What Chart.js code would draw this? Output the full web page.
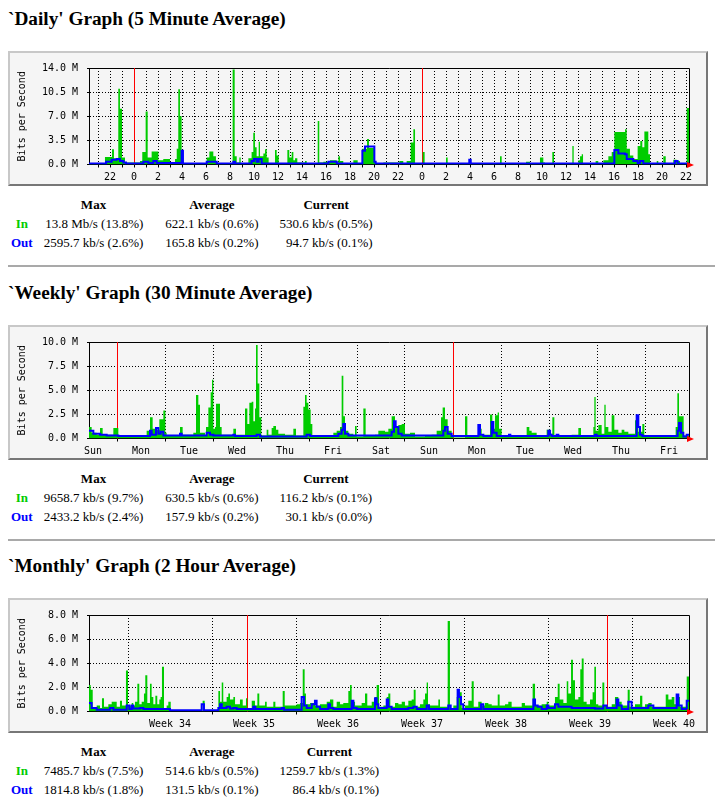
<!DOCTYPE html>
<html>
<head>
<meta charset="utf-8">
<title>MRTG traffic</title>
<script src="https://cdn.jsdelivr.net/npm/chart.js@4.4.1/dist/chart.umd.min.js"></script>
<style>
  html, body { margin: 0; padding: 0; background: #fff; }
  body { position: relative; width: 715px; height: 805px; overflow: hidden;
         font-family: "Liberation Serif", "Times New Roman", serif; color: #000; }
  h2 { position: absolute; left: 8px; margin: 0; font-size: 19.25px; line-height: 24px;
       font-weight: bold; white-space: nowrap; }
  .graph { position: absolute; left: 8px; width: 696px; height: 131px; background: #f5f5f5;
           border-style: solid; border-width: 2px; border-color: #c8c8c8 #777 #777 #c8c8c8; }
  .graph canvas { display: block; }
  table.stats { position: absolute; left: 8px; border-collapse: collapse; font-size: 13px; }
  table.stats tr { height: 19px; line-height: 19px; }
  table.stats th, table.stats td { padding: 0; white-space: nowrap; }
  table.stats th { text-align: center; font-weight: bold; }
  table.stats .lbl { padding: 0 3px; }
  table.stats .c1 { padding-left: 8px; }
  table.stats .c2 { padding-left: 22px; }
  table.stats .c3 { padding-left: 21px; }
  table.stats td { text-align: right; }
  .in { color: #00cc00; }
  .out { color: #0000ff; }
  .rule { position: absolute; left: 8px; width: 707px; height: 2px; background: #a9a9a9; }
</style>
</head>
<body>

<h2 style="top:6.5px">`Daily' Graph (5 Minute Average)</h2>
<div class="graph" style="top:51px"><canvas id="daily" width="696" height="131"></canvas></div>
<table class="stats" style="top:195px">
  <tr><th class="lbl"></th><th class="c1">Max</th><th class="c2">Average</th><th class="c3">Current</th></tr>
  <tr><th class="lbl in">In</th><td class="c1">13.8 Mb/s (13.8%)</td><td class="c2">622.1 kb/s (0.6%)</td><td class="c3">530.6 kb/s (0.5%)</td></tr>
  <tr><th class="lbl out">Out</th><td class="c1">2595.7 kb/s (2.6%)</td><td class="c2">165.8 kb/s (0.2%)</td><td class="c3">94.7 kb/s (0.1%)</td></tr>
</table>
<div class="rule" style="top:265px"></div>

<h2 style="top:280.5px">`Weekly' Graph (30 Minute Average)</h2>
<div class="graph" style="top:325px"><canvas id="weekly" width="696" height="131"></canvas></div>
<table class="stats" style="top:469px">
  <tr><th class="lbl"></th><th class="c1">Max</th><th class="c2">Average</th><th class="c3">Current</th></tr>
  <tr><th class="lbl in">In</th><td class="c1">9658.7 kb/s (9.7%)</td><td class="c2">630.5 kb/s (0.6%)</td><td class="c3">116.2 kb/s (0.1%)</td></tr>
  <tr><th class="lbl out">Out</th><td class="c1">2433.2 kb/s (2.4%)</td><td class="c2">157.9 kb/s (0.2%)</td><td class="c3">30.1 kb/s (0.0%)</td></tr>
</table>
<div class="rule" style="top:539px"></div>

<h2 style="top:553.5px">`Monthly' Graph (2 Hour Average)</h2>
<div class="graph" style="top:598px"><canvas id="monthly" width="696" height="131"></canvas></div>
<table class="stats" style="top:742px">
  <tr><th class="lbl"></th><th class="c1">Max</th><th class="c2">Average</th><th class="c3">Current</th></tr>
  <tr><th class="lbl in">In</th><td class="c1">7485.7 kb/s (7.5%)</td><td class="c2">514.6 kb/s (0.5%)</td><td class="c3">1259.7 kb/s (1.3%)</td></tr>
  <tr><th class="lbl out">Out</th><td class="c1">1814.8 kb/s (1.8%)</td><td class="c2">131.5 kb/s (0.1%)</td><td class="c3">86.4 kb/s (0.1%)</td></tr>
</table>

<script>
// ============================================================
// MRTG style traffic graphs (Chart.js, stepped area + line)
// x = time, y = Mbit/s. Each point holds until the next one.
// ============================================================

// ── Daily: hours from first midnight, 5 min samples ──
const dailyIn = [
  [-3.75,0.2],[-2.42,1.1],[-1.83,2.2],[-1.67,0.9],[-1.31,11.0],[-1.17,8.1],[-1.0,1.0],[-0.75,0.3],
  [0.5,0.5],[0.69,1.8],[0.97,7.7],[1.14,1.0],[1.47,1.9],[2.03,0.6],[2.44,0.8],[3.0,0.3],
  [3.42,0.8],[3.56,2.3],[3.69,10.9],[3.83,7.0],[3.97,1.0],[4.11,0.15],[6.06,1.0],[6.28,1.9],
  [6.61,1.2],[6.83,0.3],[7.03,0.1],[8.22,13.8],[8.39,1.2],[8.56,0.3],[8.78,1.0],[8.89,0.2],
  [9.53,0.9],[9.8,1.8],[9.94,4.6],[10.08,2.5],[10.22,1.2],[10.39,3.3],[10.5,1.2],[10.78,1.6],
  [10.92,2.2],[11.06,1.0],[11.22,0.2],[11.75,2.1],[11.89,1.3],[12.06,0.2],[12.78,2.1],[12.94,1.0],
  [13.14,1.8],[13.28,0.6],[13.42,0.9],[13.61,0.3],[14.25,0.5],[14.39,0.15],[15.31,6.3],[15.44,0.3],
  [15.78,0.4],[16.33,0.6],[16.89,0.3],[17.03,1.2],[17.17,0.5],[17.44,0.15],[18.28,0.6],[18.64,0.15],
  [19.03,2.3],[19.42,3.7],[19.58,2.4],[20.03,0.5],[20.14,0.1],[20.78,0.3],[22.03,0.15],[22.11,0.5],
  [22.44,0.1],[22.72,0.5],[23.06,3.2],[23.28,5.1],[23.42,0.1],[24.06,1.8],[24.22,0.1],[26.0,1.0],
  [26.14,0.1],[30.5,1.2],[30.64,0.1],[32.67,0.4],[33.0,0.1],[33.83,1.0],[34.11,0.3],[34.25,0.1],
  [34.86,1.8],[35.0,0.1],[36.53,2.7],[36.64,0.1],[37.03,0.6],[37.17,1.2],[37.31,1.5],[37.42,0.1],
  [38.47,0.5],[38.69,0.15],[39.11,0.6],[39.53,1.2],[39.81,1.8],[40.03,4.7],[40.92,5.1],[41.06,2.3],
  [41.33,1.3],[41.61,0.8],[41.97,2.7],[42.19,3.4],[42.36,2.5],[42.53,4.8],[42.86,1.5],[43.0,0.2],
  [43.56,0.5],[43.69,0.1],[44.11,1.2],[44.31,0.1],[44.94,0.7],[45.22,0.5],[45.5,0.1],[46.06,8.2],
  [46.25,8.2]
];
const dailyOut = [
  [-3.75,0.15],[-2.33,0.4],[-1.86,0.7],[-1.44,0.8],[-1.17,0.5],[-0.89,0.3],[-0.67,0.15],[0.78,0.4],
  [1.19,0.2],[1.61,0.5],[1.89,0.2],[3.97,2.0],[4.08,0.15],[6.06,0.4],[6.89,0.15],[8.28,0.4],
  [8.42,0.15],[9.8,0.5],[10.0,0.8],[10.22,0.4],[10.39,0.8],[10.64,0.15],[16.2,0.4],[16.9,0.15],
  [19.03,2.0],[19.25,2.6],[20.03,0.4],[20.14,0.15],[27.94,0.7],[28.06,0.15],[40.03,2.1],[40.36,1.6],
  [40.92,1.5],[41.06,0.8],[41.61,0.5],[41.97,0.2],[42.17,0.5],[42.44,0.15],[45.08,0.5],[45.3,0.15],
  [46.25,0.15]
];
const dailyLabelHours = [-2,0,2,4,6,8,10,12,14,16,18,20,22,24,26,28,30,32,34,36,38,40,42,44,46];
const dailyLabels = ['22','0','2','4','6','8','10','12','14','16','18','20','22',
                     '0','2','4','6','8','10','12','14','16','18','20','22'];
const dailyYTicks = [0, 3.5, 7, 10.5, 14];
const dailyMidnights = [0, 24];

// ── Weekly: hours from Monday 00:00, 30 min samples ──
const weeklyIn = [
  [-14,1.2],[-12.67,0.6],[-10.17,0.4],[-8.5,1.1],[-7.17,0.4],[-1.83,1.1],[0.67,0.3],[14.83,0.8],
  [16.5,2.2],[17.83,1.0],[19.17,0.4],[19.83,0.9],[21.17,2.0],[23.17,2.9],[24.17,0.6],[24.83,0.3],
  [31.5,1.2],[32.83,0.4],[38.17,0.6],[39.5,4.5],[40.67,3.5],[41.5,0.6],[44.0,0.3],[44.5,1.2],
  [45.67,3.2],[46.83,4.8],[47.5,6.1],[48.17,1.0],[49.0,1.2],[49.5,3.6],[51.5,1.2],[52.33,0.4],
  [58.17,1.0],[59.5,0.4],[64.0,3.1],[65.17,1.5],[66.17,3.7],[67.33,3.8],[68.17,1.8],[69.0,3.1],
  [69.5,9.7],[70.33,5.7],[71.17,2.2],[72.17,0.3],[74.83,0.9],[75.67,0.4],[77.33,1.1],[78.17,1.3],
  [79.5,0.9],[80.67,0.5],[84.0,0.4],[88.17,1.0],[89.5,0.3],[93.17,3.3],[94.0,4.5],[94.83,3.7],
  [95.67,3.0],[96.83,1.5],[97.67,0.3],[101.5,0.2],[108.17,0.6],[109.83,0.8],[111.5,1.2],[112.33,6.5],
  [113.17,2.3],[114.0,0.8],[115.67,0.5],[118.17,0.3],[119.0,1.3],[119.83,0.2],[123.17,3.1],[124.33,0.3],
  [129.0,0.4],[130.67,0.8],[134.0,0.7],[135.67,1.0],[137.33,2.3],[139.0,1.2],[140.67,1.4],[142.33,1.5],
  [144.0,0.5],[146.5,0.6],[149.0,0.2],[154.0,0.3],[157.33,0.4],[159.83,0.8],[162.0,2.2],[162.83,3.2],
  [164.0,2.0],[165.33,0.8],[167.33,0.3],[168.17,0.1],[174.0,2.3],[175.17,0.3],[180.67,1.0],[182.33,0.4],
  [186.5,2.5],[187.67,1.0],[189.0,2.4],[190.33,2.7],[191.0,1.0],[192.33,0.2],[204.83,1.2],[206.17,0.8],
  [207.33,0.6],[209.83,0.2],[214.83,0.9],[216.5,0.5],[217.67,2.2],[218.67,0.3],[219.83,0.2],[227.33,0.4],
  [230.67,1.1],[232.0,0.3],[238.17,1.2],[238.67,4.3],[239.33,0.8],[240.67,1.4],[242.33,0.5],[243.67,3.5],
  [244.33,1.2],[245.67,0.7],[247.33,2.4],[248.67,0.9],[250.67,0.6],[252.33,0.9],[253.67,0.7],[255.67,0.5],
  [259.0,1.9],[260.67,0.7],[262.67,1.5],[263.67,0.3],[265.67,0.2],[275.67,0.3],[279.33,1.2],[280.17,4.7],
  [281.0,2.3],[283.33,0.3],[286,0.3]
];
const weeklyOut = [
  [-14,0.8],[-11.83,0.5],[-8.5,0.4],[-5.17,0.3],[0.67,0.25],[16.5,0.8],[17.33,0.4],[19.5,1.1],
  [20.67,0.5],[21.83,0.7],[23.17,0.3],[31.5,0.5],[32.33,0.3],[44.83,0.6],[46.5,0.4],[48.17,0.3],
  [58.17,0.4],[59.0,0.25],[69.83,0.4],[71.5,0.2],[94.83,0.4],[96.5,0.25],[110.67,0.5],[112.33,0.9],
  [113.17,1.5],[114.0,0.5],[115.67,0.3],[137.33,0.7],[138.5,1.8],[139.33,1.2],[140.67,0.5],[142.33,0.3],
  [163.17,0.8],[164.0,1.2],[165.33,0.5],[167.33,0.25],[180.67,1.4],[181.5,0.4],[183.17,0.25],[187.33,1.7],
  [188.17,0.6],[189.83,0.25],[196.0,0.4],[196.67,0.25],[215.67,0.8],[216.5,0.4],[217.33,0.25],[219.83,0.4],
  [220.67,0.25],[239.0,0.4],[239.83,0.25],[259.83,2.4],[260.67,1.2],[261.5,0.4],[262.67,0.25],[280.33,0.8],
  [281.0,1.6],[282.0,0.6],[283.17,0.2],[284.83,0.4],[286,0.4]
];
const weeklyLabelHours = [-12,12,36,60,84,108,132,156,180,204,228,252,276];
const weeklyLabels = ['Sun','Mon','Tue','Wed','Thu','Fri','Sat','Sun','Mon','Tue','Wed','Thu','Fri'];
const weeklyYTicks = [0, 2.5, 5, 7.5, 10];
const weeklyWeekStarts = [0, 168];

// ── Monthly: days from start of week 34, 2 hour samples ──
const monthlyIn = [
  [-3.25,2.2],[-3.11,1.8],[-2.94,0.3],[-2.61,0.5],[-2.33,0.3],[-2.17,1.1],[-2.0,0.4],[-1.64,0.6],
  [-1.36,0.8],[-0.94,0.4],[-0.67,0.9],[-0.5,0.5],[-0.17,3.4],[0.0,0.5],[0.31,0.7],[0.44,0.5],
  [0.58,0.8],[0.78,2.3],[0.94,0.6],[1.14,0.8],[1.33,1.5],[1.44,3.0],[1.61,0.7],[1.83,2.3],
  [1.97,1.2],[2.11,0.6],[2.28,1.3],[2.44,0.6],[2.61,1.0],[2.72,1.2],[2.83,3.7],[3.0,0.3],
  [3.22,0.5],[3.36,0.8],[3.56,0.03],[6.22,0.9],[6.39,0.03],[7.53,1.7],[7.67,0.8],[7.81,2.4],
  [7.94,0.8],[8.22,1.2],[8.36,1.5],[8.5,1.0],[8.78,1.2],[8.92,0.6],[9.33,1.0],[9.56,0.5],
  [9.83,1.1],[9.94,0.3],[10.31,0.9],[10.58,0.5],[10.78,1.5],[10.94,0.5],[11.42,0.8],[11.56,0.4],
  [12.11,0.8],[12.28,0.4],[12.89,1.7],[13.06,0.5],[14.06,0.6],[14.33,0.7],[14.56,3.5],[14.72,1.5],
  [14.83,0.6],[15.17,0.7],[15.58,0.5],[16.0,0.6],[16.56,0.8],[16.83,1.0],[17.11,0.4],[17.39,0.8],
  [17.67,0.6],[17.94,0.7],[18.36,1.7],[18.5,2.2],[18.64,0.8],[18.92,0.5],[19.47,0.7],[19.75,1.5],
  [19.94,0.5],[20.31,0.8],[20.58,1.2],[20.72,2.2],[20.92,0.4],[21.28,0.5],[21.56,1.2],[21.69,1.5],
  [21.86,0.4],[22.25,0.7],[22.53,0.6],[22.81,0.8],[23.08,0.5],[23.36,0.9],[23.64,1.0],[23.81,1.8],
  [23.97,0.4],[24.33,0.6],[24.61,1.0],[24.75,1.5],[24.89,2.4],[25.0,0.6],[25.17,0.5],[25.86,1.0],
  [26.0,0.4],[26.64,7.5],[26.83,0.3],[27.11,0.5],[27.39,1.2],[27.58,1.6],[27.81,0.3],[28.08,0.5],
  [28.36,0.9],[28.64,2.5],[28.81,0.4],[29.19,0.8],[29.47,0.5],[29.75,0.7],[30.03,0.6],[30.31,0.5],
  [30.81,1.4],[30.97,0.5],[31.42,0.6],[31.69,0.8],[31.97,0.4],[32.81,0.7],[33.08,0.5],[33.72,2.3],
  [33.92,0.5],[34.47,0.6],[34.89,0.8],[35.03,0.5],[35.58,1.2],[35.81,2.3],[35.97,1.0],[36.28,0.7],
  [36.56,2.5],[36.69,1.5],[36.92,4.3],[37.08,2.6],[37.25,1.0],[37.53,1.2],[37.69,3.5],[37.81,4.4],
  [37.97,0.8],[38.22,0.6],[38.5,1.0],[38.72,1.6],[38.86,3.7],[39.0,0.6],[39.19,0.5],[39.53,2.4],
  [39.69,0.5],[39.89,0.4],[40.31,0.6],[40.58,1.2],[40.86,0.8],[41.14,0.5],[41.64,1.8],[41.81,0.4],
  [42.25,0.6],[42.67,1.3],[42.86,0.4],[43.08,0.6],[43.36,0.7],[43.64,0.4],[44.81,1.4],[45.03,1.0],
  [45.31,1.2],[45.53,0.6],[45.81,1.2],[46.0,0.4],[46.56,2.9],[46.75,2.9]
];
const monthlyOut = [
  [-3.25,0.7],[-3.03,0.3],[-2.61,0.15],[-1.5,0.3],[-1.22,0.15],[-0.11,0.5],[0.11,0.2],[0.31,0.5],
  [0.44,0.25],[1.0,0.3],[1.28,0.2],[3.5,0.1],[6.14,0.6],[6.33,0.1],[7.53,0.3],[7.67,0.6],
  [7.81,0.3],[8.22,0.4],[8.5,0.25],[8.78,0.3],[9.06,0.2],[10.44,0.4],[10.61,0.2],[12.81,0.3],
  [13.0,0.15],[14.47,1.2],[14.67,0.5],[14.89,0.3],[15.31,0.6],[15.58,0.9],[15.72,0.4],[16.0,0.2],
  [16.69,0.6],[16.83,0.3],[17.11,0.2],[18.64,0.9],[18.78,0.3],[19.06,0.2],[20.58,1.1],[20.72,0.6],
  [20.86,0.3],[21.56,1.0],[21.69,0.4],[21.97,0.2],[23.36,0.3],[23.78,0.4],[24.06,0.2],[24.89,0.5],
  [25.08,0.2],[26.69,0.5],[26.89,0.2],[27.47,1.8],[27.58,1.2],[27.75,0.6],[27.94,0.2],[29.42,0.6],
  [29.61,0.2],[33.78,1.0],[33.92,0.5],[34.14,0.4],[34.47,0.2],[34.89,0.5],[35.03,0.3],[35.58,0.6],
  [35.86,0.4],[36.97,0.3],[38.92,0.25],[39.61,0.5],[39.89,0.3],[40.72,1.0],[40.86,0.5],[41.14,0.2],
  [41.69,0.8],[41.97,0.3],[43.36,0.5],[43.78,0.3],[45.72,1.4],[45.86,0.5],[46.14,0.2],[46.56,0.9],
  [46.75,0.9]
];
const monthlyLabelDays = [3.5, 10.5, 17.5, 24.5, 31.5, 38.5, 45.5];
const monthlyLabels = ['Week 34','Week 35','Week 36','Week 37','Week 38','Week 39','Week 40'];
const monthlyYTicks = [0, 2, 4, 6, 8];
const monthlyMonthStarts = [9.92, 39.92];

// ── common style ──
const GREEN = '#00cc00';
const BLUE = '#0000ff';
const RED = '#ff0000';
const MONO = { family: 'DejaVu Sans Mono', size: 10 };

function steps(from, to, step) {
  const out = [];
  for (let v = from; v <= to + 1e-9; v += step) out.push(v);
  return out;
}

// red marker lines, solid frame on top/right, red arrow at the x axis end
const mrtgDecor = {
  id: 'mrtgDecor',
  beforeDatasetsDraw(chart, args, opts) {
    const { ctx, chartArea: a, scales: { x } } = chart;
    ctx.save();
    ctx.setLineDash([]);
    ctx.lineWidth = 1;
    ctx.strokeStyle = '#000';
    const top = Math.round(a.top) + 0.5;
    const right = Math.round(a.right) + 0.5;
    ctx.beginPath();
    ctx.moveTo(a.left, top);
    ctx.lineTo(right, top);
    ctx.lineTo(right, a.bottom);
    ctx.stroke();
    ctx.strokeStyle = RED;
    (opts.marks || []).forEach(v => {
      const px = Math.round(x.getPixelForValue(v)) + 0.5;
      ctx.beginPath();
      ctx.moveTo(px, a.top);
      ctx.lineTo(px, a.bottom);
      ctx.stroke();
    });
    ctx.restore();
  },
  afterDraw(chart) {
    const { ctx, chartArea: a } = chart;
    const x = Math.round(a.right), y = Math.round(a.bottom);
    ctx.save();
    ctx.fillStyle = RED;
    ctx.beginPath();
    ctx.moveTo(x - 2, y - 3);
    ctx.lineTo(x + 5, y);
    ctx.lineTo(x - 2, y + 3);
    ctx.closePath();
    ctx.fill();
    ctx.restore();
  }
};

function renderGraph(id, cfg) {
  const gridVals = new Set(cfg.grid);
  const labelMap = new Map(cfg.labelAt.map((v, i) => [v, cfg.labels[i]]));
  const xTicks = [...new Set([...cfg.grid, ...cfg.labelAt])].sort((a, b) => a - b);
  const onGrid = c => (c.tick && gridVals.has(c.tick.value)) ? '#000' : 'rgba(0,0,0,0)';
  const toXY = pts => pts.map(p => ({ x: p[0], y: p[1] }));

  return new Chart(document.getElementById(id), {
    type: 'line',
    data: {
      datasets: [
        {
          label: 'Out',
          data: toXY(cfg.out),
          stepped: true,
          borderColor: BLUE,
          borderWidth: 2,
          pointRadius: 0,
          fill: false,
          order: 0
        },
        {
          label: 'In',
          data: toXY(cfg.in),
          stepped: true,
          borderWidth: 0,
          borderColor: GREEN,
          backgroundColor: GREEN,
          pointRadius: 0,
          fill: 'origin',
          order: 1
        }
      ]
    },
    options: {
      responsive: false,
      animation: false,
      events: [],
      layout: { padding: { left: 0, top: 12, right: 17, bottom: 0 } },
      plugins: {
        legend: { display: false },
        tooltip: { enabled: false },
        mrtgDecor: { marks: cfg.marks }
      },
      scales: {
        x: {
          type: 'linear',
          min: cfg.xMin,
          max: cfg.xMax,
          afterBuildTicks: s => { s.ticks = xTicks.map(v => ({ value: v })); },
          afterFit: s => { s.height = 19.5; },
          grid: { color: onGrid, tickColor: onGrid, tickLength: 3, lineWidth: 1 },
          border: { color: '#000', width: 1, dash: [1, 2] },
          ticks: {
            autoSkip: false, maxRotation: 0, minRotation: 0, padding: 4,
            color: '#000', font: MONO,
            callback: v => labelMap.has(v) ? labelMap.get(v) : ''
          }
        },
        y: {
          min: 0,
          max: cfg.yMax,
          afterBuildTicks: s => { s.ticks = cfg.yTicks.map(v => ({ value: v })); },
          afterFit: s => { s.width = 79; },
          grid: { color: '#000', tickColor: '#000', tickLength: 2, lineWidth: 1 },
          border: { color: '#000', width: 1, dash: [1, 2] },
          ticks: { padding: 9, color: '#000', font: MONO, callback: v => v.toFixed(1) + ' M' },
          title: {
            display: true, text: 'Bits per Second', color: '#000', font: MONO,
            padding: { top: 6, bottom: 0 }
          }
        }
      }
    },
    plugins: [mrtgDecor]
  });
}

renderGraph('daily', {
  in: dailyIn, out: dailyOut,
  xMin: -3.75, xMax: 46.25,
  grid: steps(-3, 46, 1),
  labelAt: dailyLabelHours, labels: dailyLabels,
  yMax: 14, yTicks: dailyYTicks,
  marks: dailyMidnights
});

renderGraph('weekly', {
  in: weeklyIn, out: weeklyOut,
  xMin: -14, xMax: 286,
  grid: steps(0, 264, 24),
  labelAt: weeklyLabelHours, labels: weeklyLabels,
  yMax: 10, yTicks: weeklyYTicks,
  marks: weeklyWeekStarts
});

renderGraph('monthly', {
  in: monthlyIn, out: monthlyOut,
  xMin: -3.25, xMax: 46.75,
  grid: steps(0, 42, 7),
  labelAt: monthlyLabelDays, labels: monthlyLabels,
  yMax: 8, yTicks: monthlyYTicks,
  marks: monthlyMonthStarts
});
</script>
</body>
</html>
